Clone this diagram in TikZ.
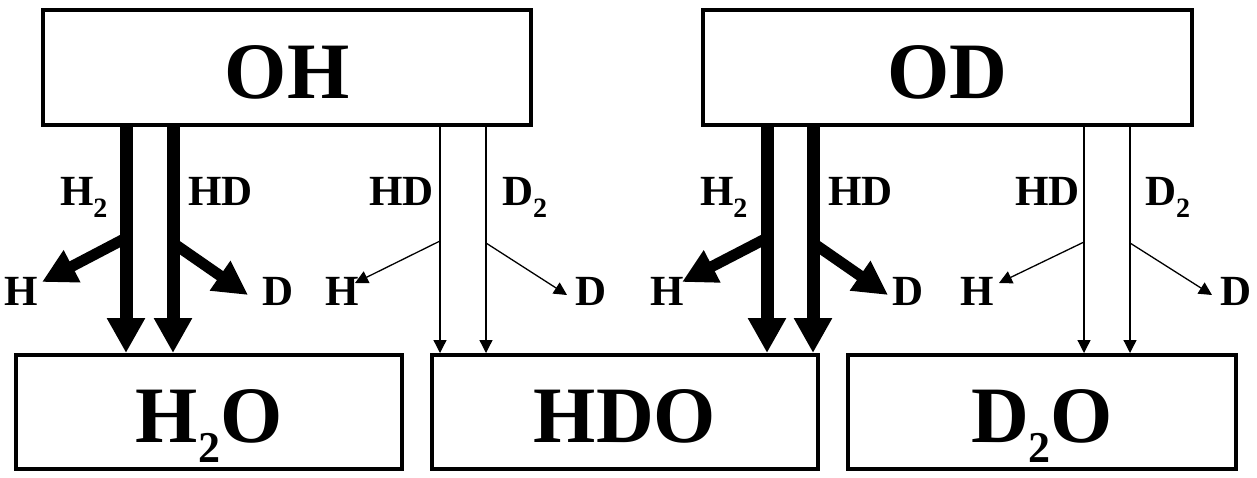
\documentclass[tikz,border=0pt]{standalone}
\usepackage{fontspec}
\setmainfont{Liberation Serif}
\usetikzlibrary{arrows.meta}
\newcommand\bigsub[1]{\raisebox{-20pt}{\fontsize{44}{44}\selectfont #1}}
\newcommand\smsub[1]{\raisebox{-12pt}{\fontsize{28}{28}\selectfont #1}}
\tikzset{
  box/.style={draw, line width=4pt, inner sep=0pt, text depth=0pt,
    font=\fontsize{80}{80}\selectfont\bfseries},
  lab/.style={anchor=base west, inner sep=0pt, outer sep=0pt,
    font=\fontsize{43}{43}\selectfont\bfseries},
  fat/.style={line width=13pt, -{Triangle[length=35pt,width=36pt]}},
  fatbr/.style={line width=11pt, -{Triangle[length=34pt,width=34pt]}},
  slim/.style={line width=1.3pt, -{Triangle[length=13pt,width=13pt]}},
}
\begin{document}
\begin{tikzpicture}[x=1pt,y=-1pt]
\useasboundingbox (0,0) rectangle (1257,477);
% boxes
\node[box, minimum width=488pt, minimum height=115pt, text height=61pt] (OH) at (287,67.5) {OH};
\node[box, minimum width=489pt, minimum height=115pt, text height=61pt] (OD) at (947.5,67.5) {OD};
\node[box, minimum width=386pt, minimum height=114pt, text height=60pt] (H2O) at (209,412) {H\bigsub{2}O};
\node[box, minimum width=386pt, minimum height=114pt, text height=60pt] (HDO) at (625,412) {HDO};
\node[box, minimum width=388pt, minimum height=114pt, text height=60pt] (D2O) at (1042,412) {D\bigsub{2}O};
% labels
\node[lab] (l1) at (60,205) {H\smsub{2}};
\node[lab] (l2) at (188,205) {HD};
\node[lab] (l3) at (5,305) {H};
\node[lab] (l4) at (262,305) {D};
\node[lab] (l5) at (369,205) {HD};
\node[lab] (l6) at (502,205) {D\smsub{2}};
\node[lab] (l7) at (325,305) {H};
\node[lab] (l8) at (575,305) {D};
\node[lab] (l9) at (700,205) {H\smsub{2}};
\node[lab] (l10) at (828,205) {HD};
\node[lab] (l11) at (650,305) {H};
\node[lab] (l12) at (892,305) {D};
\node[lab] (l13) at (1015,205) {HD};
\node[lab] (l14) at (1145,205) {D\smsub{2}};
\node[lab] (l15) at (960,305) {H};
\node[lab] (l16) at (1220,305) {D};
% branch points and branch ends
\coordinate (b1) at (126,238);  \coordinate (e1) at (42,282);
\coordinate (b2) at (173,243);  \coordinate (e2) at (248,295);
\coordinate (b3) at (440,241);  \coordinate (e3) at (355,283);
\coordinate (b4) at (486,243);  \coordinate (e4) at (567,295);
\coordinate (b5) at (767,238);  \coordinate (e5) at (682,282);
\coordinate (b6) at (813,243);  \coordinate (e6) at (888,295);
\coordinate (b7) at (1084,242); \coordinate (e7) at (999,283);
\coordinate (b8) at (1130,243); \coordinate (e8) at (1212,295);
% vertical connectors
\draw[fat] (b1 |- OH.south) -- (b1 |- H2O.north);
\draw[fat] (b2 |- OH.south) -- (b2 |- H2O.north);
\draw[slim] (b3 |- OH.south) -- (b3 |- HDO.north);
\draw[slim] (b4 |- OH.south) -- (b4 |- HDO.north);
\draw[fat] (b5 |- OD.south) -- (b5 |- HDO.north);
\draw[fat] (b6 |- OD.south) -- (b6 |- HDO.north);
\draw[slim] (b7 |- OD.south) -- (b7 |- D2O.north);
\draw[slim] (b8 |- OD.south) -- (b8 |- D2O.north);
% branches
\draw[fatbr] (b1) -- (e1);
\draw[fatbr] (b2) -- (e2);
\draw[slim] (b3) -- (e3);
\draw[slim] (b4) -- (e4);
\draw[fatbr] (b5) -- (e5);
\draw[fatbr] (b6) -- (e6);
\draw[slim] (b7) -- (e7);
\draw[slim] (b8) -- (e8);
\end{tikzpicture}
\end{document}
